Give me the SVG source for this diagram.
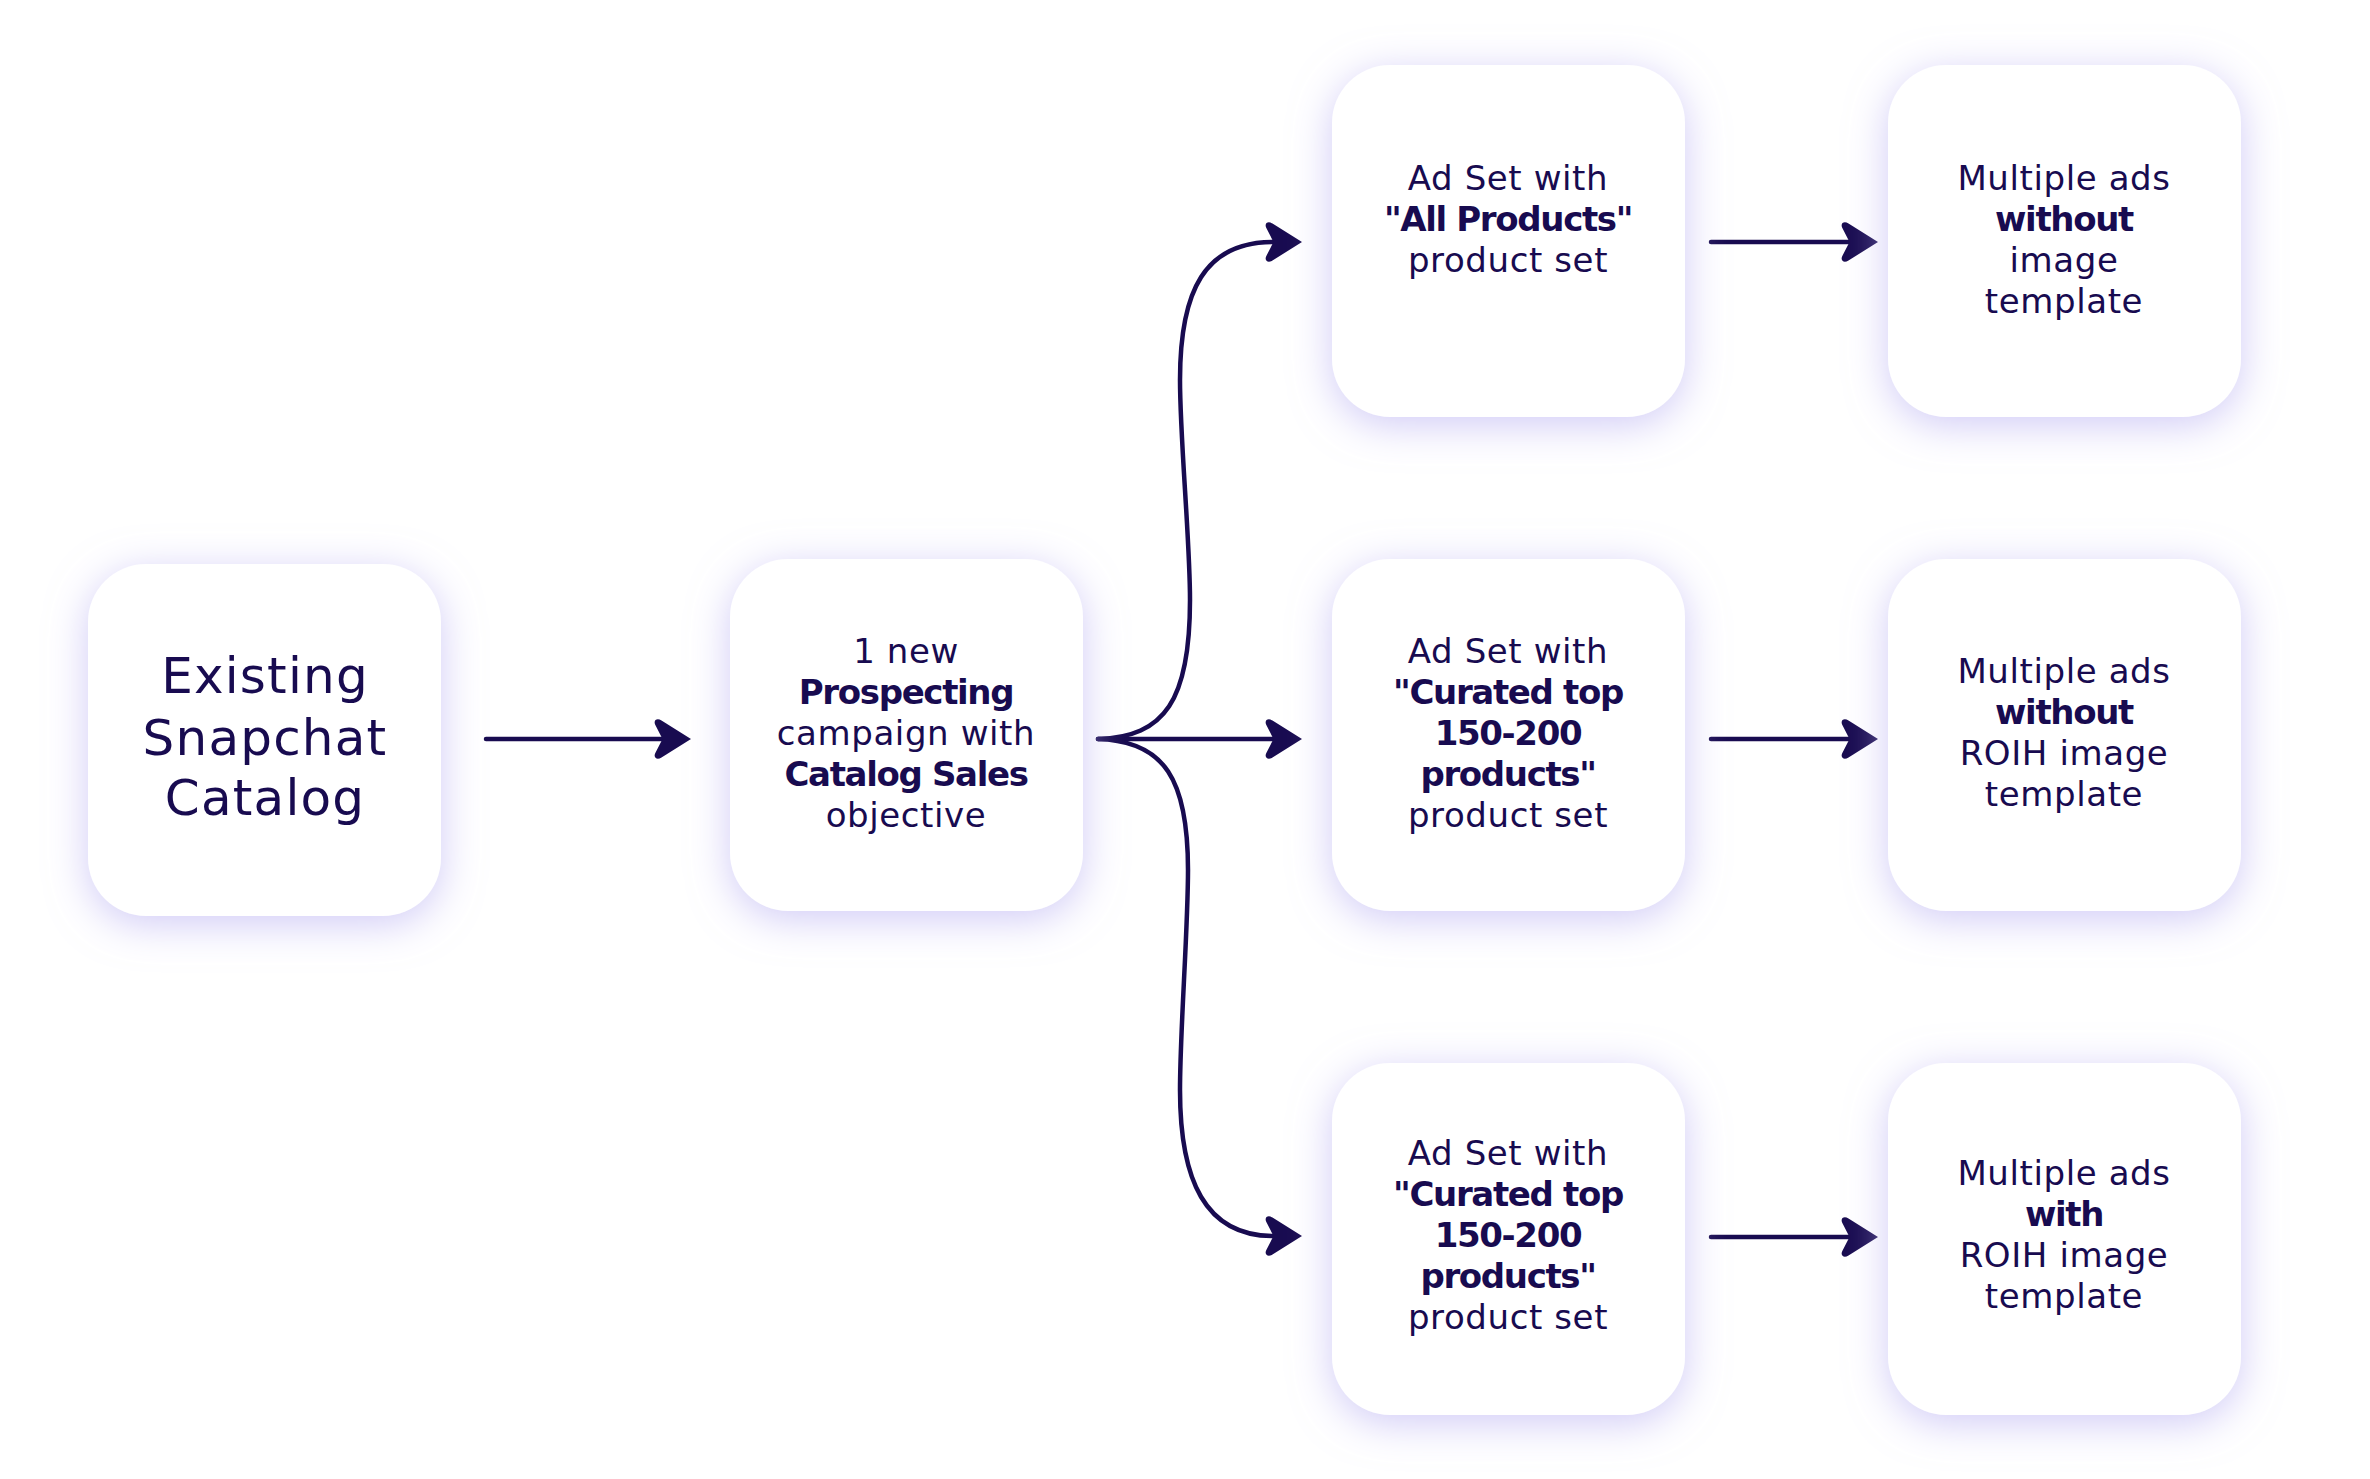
<svg xmlns="http://www.w3.org/2000/svg" width="2370" height="1479" viewBox="0 0 2370 1479">
  <defs>
    <filter id="glow" x="-35%" y="-35%" width="170%" height="170%">
      <feDropShadow dx="0" dy="8" stdDeviation="20" flood-color="#c4bdf4" flood-opacity="0.8"/>
    </filter>
    <marker id="ah" viewBox="0 0 38 44" refX="8" refY="22" markerWidth="38" markerHeight="44" markerUnits="userSpaceOnUse" orient="auto">
      <path d="M37,22 L7.5,3.5 C2.8,0.6 -0.8,3.5 1.2,7.8 L8.5,22 L1.2,36.2 C-0.8,40.5 2.8,43.4 7.5,40.5 Z" fill="#180b50"/>
    </marker>
    <style>
      .box { fill: #ffffff; filter: url(#glow); }
      text { font-family: "DejaVu Sans", "Liberation Sans", sans-serif; fill: #180b50; text-anchor: middle; }
      .r { font-size: 34px; font-weight: 400; letter-spacing: 0.6px; }
      .b { font-size: 34px; font-weight: 700; letter-spacing: -1.35px; }
      .big { font-size: 50px; font-weight: 400; letter-spacing: 1.2px; }
      .edge { fill: none; stroke: #180b50; stroke-width: 4.5; stroke-linecap: round; marker-end: url(#ah); }
    </style>
  </defs>
  <rect width="2370" height="1479" fill="#ffffff"/>

  <g id="connectors">
    <path class="edge" d="M486,739 L662,739"/>
    <path class="edge" d="M1098,739 L1273,739"/>
    <path class="edge" d="M1098,739 C1165,737 1190,700 1190,600 C1190,540 1180,440 1180,380 C1180,290 1205,242 1273,242"/>
    <path class="edge" d="M1098,739 C1165,741 1188,780 1188,870 C1188,930 1180,1030 1180,1090 C1180,1180 1205,1236 1273,1236"/>
    <path class="edge" d="M1711,242 L1849,242"/>
    <path class="edge" d="M1711,739 L1849,739"/>
    <path class="edge" d="M1711,1237 L1849,1237"/>
  </g>

  <g id="catalog">
    <rect class="box" x="88" y="564" width="353" height="352" rx="58"/>
    <text class="big" x="265" y="693">Existing</text>
    <text class="big" x="265" y="755">Snapchat</text>
    <text class="big" x="265" y="815">Catalog</text>
  </g>

  <g id="campaign">
    <rect class="box" x="730" y="559" width="353" height="352" rx="58"/>
    <text class="r" x="906" y="663">1 new</text>
    <text class="b" x="906" y="704">Prospecting</text>
    <text class="r" x="906" y="745">campaign with</text>
    <text class="b" x="906" y="786">Catalog Sales</text>
    <text class="r" x="906" y="827">objective</text>
  </g>

  <g id="adset-all">
    <rect class="box" x="1332" y="65" width="353" height="352" rx="58"/>
    <text class="r" x="1508" y="190">Ad Set with</text>
    <text class="b" x="1508" y="231">"All Products"</text>
    <text class="r" x="1508" y="272">product set</text>
  </g>

  <g id="ads-1">
    <rect class="box" x="1888" y="65" width="353" height="352" rx="58"/>
    <text class="r" x="2064" y="190">Multiple ads</text>
    <text class="b" x="2064" y="231">without</text>
    <text class="r" x="2064" y="272">image</text>
    <text class="r" x="2064" y="313">template</text>
  </g>

  <g id="adset-curated-1">
    <rect class="box" x="1332" y="559" width="353" height="352" rx="58"/>
    <text class="r" x="1508" y="663">Ad Set with</text>
    <text class="b" x="1508" y="704">"Curated top</text>
    <text class="b" x="1508" y="745">150-200</text>
    <text class="b" x="1508" y="786">products"</text>
    <text class="r" x="1508" y="827">product set</text>
  </g>

  <g id="ads-2">
    <rect class="box" x="1888" y="559" width="353" height="352" rx="58"/>
    <text class="r" x="2064" y="683">Multiple ads</text>
    <text class="b" x="2064" y="724">without</text>
    <text class="r" x="2064" y="765">ROIH image</text>
    <text class="r" x="2064" y="806">template</text>
  </g>

  <g id="adset-curated-2">
    <rect class="box" x="1332" y="1063" width="353" height="352" rx="58"/>
    <text class="r" x="1508" y="1165">Ad Set with</text>
    <text class="b" x="1508" y="1206">"Curated top</text>
    <text class="b" x="1508" y="1247">150-200</text>
    <text class="b" x="1508" y="1288">products"</text>
    <text class="r" x="1508" y="1329">product set</text>
  </g>

  <g id="ads-3">
    <rect class="box" x="1888" y="1063" width="353" height="352" rx="58"/>
    <text class="r" x="2064" y="1185">Multiple ads</text>
    <text class="b" x="2064" y="1226">with</text>
    <text class="r" x="2064" y="1267">ROIH image</text>
    <text class="r" x="2064" y="1308">template</text>
  </g>
</svg>
